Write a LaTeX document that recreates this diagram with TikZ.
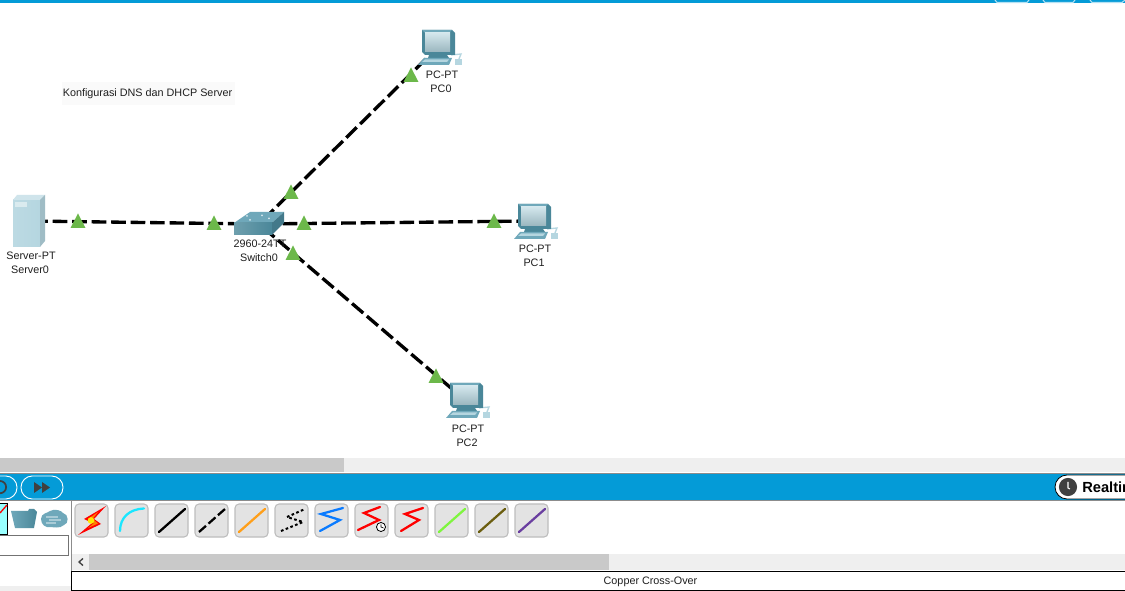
\documentclass[tikz,border=0pt]{standalone}
\usepackage{fontspec}
\setmainfont{Liberation Sans}
\definecolor{ptblue}{HTML}{049BD7}
\definecolor{track}{HTML}{EFEFEF}
\definecolor{thumb}{HTML}{C9C9C9}
\definecolor{tile}{HTML}{E3E3E3}
\definecolor{tileb}{HTML}{BDBDBD}
\definecolor{gtri}{HTML}{6CB84A}
\definecolor{pcl}{HTML}{6FA8BA}
\definecolor{pcd}{HTML}{4A8799}
\definecolor{pcs}{HTML}{B5D6E0}
\definecolor{cgreen}{HTML}{7FF53F}
\definecolor{colive}{HTML}{6B5E10}
\definecolor{cviolet}{HTML}{6A3FA0}
\definecolor{corange}{HTML}{FF9F1A}
\definecolor{cblue}{HTML}{0A7BFF}
\definecolor{ccyan}{HTML}{19E6FF}
\definecolor{selcy}{HTML}{99FFFF}
\tikzset{
  x=0.75pt,y=-0.75pt,
  lbl/.style={font=\fontsize{8.1pt}{9pt}\selectfont,inner sep=0pt,text=black!88},
  anchorbox/.style={inner sep=0pt,minimum width=6pt,minimum height=6pt},
  link/.style={line width=2.5pt,black,dash pattern=on 11pt off 3.6pt},
  tri/.style={fill=gtri,draw=none},
  tilebtn/.style={draw=tileb,fill=tile,line width=0.8pt,rounded corners=3pt},
  cablel/.style={line width=1.7pt,line cap=round},
  pill/.style={draw=white,line width=0.7pt,rounded corners=8.5pt},
}
\newcommand{\gtr}[2]{\fill[tri] (#1-7.5,#2+7) -- (#1,#2-7.5) -- (#1+7.5,#2+7) -- cycle;}
\newcommand{\pcicon}[2]{%
 \begin{scope}[shift={(#1,#2)}]
  % mouse
  \draw[pcs,line width=1pt] (14,7) -- (24,6) -- (22,11);
  \fill[pcs] (18,11) rectangle (25,17);
  % monitor
  \fill[pcd] (-15,-18) -- (15,-18) -- (18,-15) -- (18,7) -- (-12,7) -- (-15,4) -- cycle;
  \fill[pcl] (-15,-18) -- (15,-18) -- (12,-15) -- (-12,-15) -- cycle;
  \shade[top color=pcs!60!white,bottom color=pcs!85!black] (-12,-15) rectangle (13,4);
  % stand
  \fill[pcd] (-8,7) -- (10,7) -- (12,10) -- (-9,10) -- cycle;
  % keyboard
  \fill[pcl] (-13,10) -- (15,10) -- (12,17) -- (-19,17) -- cycle;
  \fill[pcs] (-12,11.5) -- (12,11.5) -- (10,14) -- (-15,14) -- cycle;
 \end{scope}}
\begin{document}
\begin{tikzpicture}
\useasboundingbox (0,0) rectangle (1125,591);
\fill[white] (0,0) rectangle (1125,591);
% top strip
\fill[ptblue] (0,0) rectangle (1125,3);
\draw[white!70!ptblue,line width=0.8pt] (995,0) -- (997,2.5) -- (1027,2.5) -- (1029,0);
\draw[white!70!ptblue,line width=0.8pt] (1043,0) -- (1045,2.5) -- (1073,2.5) -- (1075,0);
\draw[white!70!ptblue,line width=0.8pt] (1090,0) -- (1092,2.5) -- (1122,2.5) -- (1125,0);
% anchors
\node[anchorbox] (srv) at (29,221) {};
\node[anchorbox] (sw) at (259,224) {};
\node[anchorbox] (pc0) at (437,48) {};
\node[anchorbox] (pc1) at (533,221) {};
\node[anchorbox] (pc2) at (465,400) {};
% links
\draw[link] (srv) -- (sw);
\draw[link] (sw) -- (pc1);
\draw[link] (sw) -- (pc0);
\draw[link] (sw) -- (pc2);
% server
\shade[left color=pcs!90!white,right color=pcs] (13,200) rectangle (40,247);
\fill[white!35!pcs] (13,200) -- (17,195) -- (45,195) -- (40,200) -- cycle;
\fill[black!12!pcs] (40,200) -- (45,195) -- (45,241) -- (40,247) -- cycle;
\fill[white!50!pcs] (15,202) rectangle (27,207);
% switch
\fill[pcl] (234,223) -- (250,212) -- (284,212) -- (272,223) -- cycle;
\fill[white!75!pcl] (247,216) circle (1) (262,215.5) circle (1) (250,220) circle (1) (269,218.5) circle (1);
\shade[left color=pcd!80!white,right color=pcd] (234,223) rectangle (272,235);
\fill[pcd!90!black] (272,223) -- (284,212) -- (284,223) -- (272,235) -- cycle;
% pcs
\pcicon{437}{48}
\pcicon{533}{222}
\pcicon{465}{401}
% triangles
\gtr{78}{221}\gtr{214}{223}\gtr{291}{192}\gtr{304}{223}
\gtr{411}{75}\gtr{494}{221}\gtr{293}{253}\gtr{436}{376}
% labels
\node[lbl] (l1) at (442,74.5) {PC-PT};
\node[lbl] (l2) at (441,88.5) {PC0};
\node[lbl] (l3) at (535,248.5) {PC-PT};
\node[lbl] (l4) at (534,262.5) {PC1};
\node[lbl] (l5) at (468,428.5) {PC-PT};
\node[lbl] (l6) at (467,442.5) {PC2};
\node[lbl] (l7) at (31,255.5) {Server-PT};
\node[lbl] (l8) at (30,269.5) {Server0};
\node[lbl] (l9) at (260,243.5) {2960-24TT};
\node[lbl] (l10) at (259,257.5) {Switch0};
\fill[black!2!white] (62,82) rectangle (235,105);
\node[lbl] (note) at (147.5,93.5) {Konfigurasi DNS dan DHCP Server};
% h scrollbar main
\fill[track] (0,458) rectangle (1125,472);
\fill[thumb] (0,458) rectangle (344,472);
% blue bar
\fill[ptblue] (0,473) rectangle (1125,500);
\draw[black!45,line width=0.6pt] (0,473) -- (1125,473);
\draw[black!45,line width=0.6pt] (0,500) -- (1125,500);
\draw[pill] (-20,476) rectangle (17,499);
\draw[pill] (21,476) rectangle (63,499);
\draw[black!75,line width=1.3pt] (0,481) arc (90:-90:4.6pt);
\fill[black!75] (34,482) -- (42,487.5) -- (34,493) -- cycle;
\fill[black!75] (42,482) -- (50,487.5) -- (42,493) -- cycle;
% realtime
\fill[white] (1126,475) -- (1067,475) arc (90:270:9pt) -- (1126,499) -- cycle;
\draw[black,line width=0.6pt] (1126,475) -- (1067,475) arc (90:270:9pt) -- (1126,499);
\fill[black!75] (1068,487) circle[radius=6.8pt];
\draw[white,line width=0.8pt] (1068,482) -- (1068,488) -- (1070,489);
\node[font=\bfseries\fontsize{11pt}{12pt}\selectfont,anchor=west,inner sep=0pt] (rt) at (1082,487) {Realtime};
% left panel
\fill[selcy] (-5,503) rectangle (8,534);
\draw[black,line width=0.6pt] (7.5,503) -- (7.5,534) (0,534) -- (7.5,534) (0,503) -- (7.5,503);
\draw[red,line width=1pt] (7,505) -- (0,513);
\shade[left color=pcl,right color=pcd] (11,511) -- (28,511) -- (29,509) -- (34,509) -- (37,512) -- (34,528) -- (15,528) -- cycle;
\fill[pcl] (41,519) .. controls (41,513) and (48,513) .. (50,511) .. controls (55,508) and (62,511) .. (63,513) .. controls (69,514) and (69,524) .. (64,525) .. controls (60,529) and (53,527) .. (50,527) .. controls (46,528) and (41,525) .. (41,519) -- cycle;
\draw[white!40!pcl,line width=0.8pt] (46,517) -- (58,517) (49,520) -- (61,520) (46,523) -- (56,523);
\draw[black!55,line width=0.7pt,fill=white] (-3,535.5) rectangle (68,555);
\fill[track] (0,586) rectangle (71,591);
\draw[black!45,line width=0.7pt] (71.5,500) -- (71.5,571);
% tiles
\foreach \tx in {75,115,155,195,235,275,315,355,395,435,475,515}
  \draw[tilebtn] (\tx,504) rectangle ++(33,33);
% lightning
\fill[red] (106,506) -- (84,519) -- (92,523) -- (78,535) -- (101,524) -- (94,519) -- cycle;
\fill[orange] (98,512) -- (88,519) -- (94,523) -- (88,528) -- (98,523.5) -- (92.5,519) -- cycle;
\fill[yellow!90!orange] (91,520.5) circle[radius=2.5pt];
% other cables
\draw[cablel,ccyan] (120,531) .. controls (120,517) and (130,509) .. (144,508.5);
\draw[cablel,black] (159,532) -- (185,509);
\draw[cablel,black,dash pattern=on 7pt off 2.5pt,line cap=butt] (199,532) -- (225,509);
\draw[cablel,corange] (239,532) -- (265,509);
\draw[line width=1.5pt,black,dash pattern=on 2pt off 1.8pt] (281,531) -- (303,522) -- (287,517) -- (305,509);
\draw[cablel,cblue] (320,531) -- (340,520) -- (321,514) -- (343,508);
\draw[cablel,red] (358,530) -- (379,520) -- (364,513) -- (380,507);
\draw[black,line width=0.6pt,fill=white] (381,527) circle[radius=3.4pt];
\draw[black,line width=0.5pt] (381,524.5) -- (381,527) -- (383.5,528);
\draw[cablel,red] (401,531) -- (419,520) -- (405,514) -- (423,508);
\draw[cablel,cgreen] (439,532) -- (465,509);
\draw[cablel,colive] (479,532) -- (505,509);
\draw[cablel,cviolet] (519,532) -- (545,509);
% scrollbar bottom
\fill[track] (72,554) rectangle (1125,570);
\fill[thumb] (89,554) rectangle (609,570);
\draw[black!75,line width=1pt] (83,558.5) -- (79,562) -- (83,565.5);
% status
\draw[black,line width=0.7pt,fill=white] (71.5,571.5) rectangle (1130,590);
\node[lbl] (status) at (650.5,581.5) {Copper Cross-Over};
\end{tikzpicture}
\end{document}
